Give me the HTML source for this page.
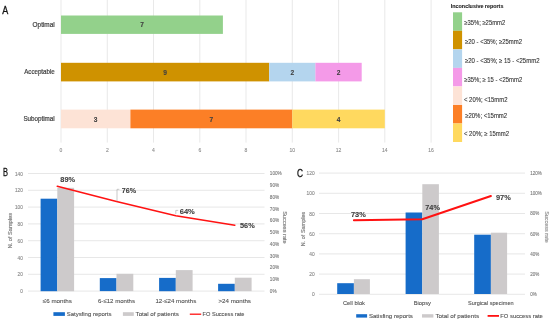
<!DOCTYPE html>
<html lang="en"><head><meta charset="utf-8"><title>Figure</title>
<style>
html,body{margin:0;padding:0;background:#fff;}
body{width:550px;height:321px;overflow:hidden;}
svg{display:block;font-family:'Liberation Sans', sans-serif;}
</style></head><body>
<svg width="550" height="321" viewBox="0 0 550 321">
<rect x="0" y="0" width="550" height="321" fill="#ffffff"/>
<line x1="61.0" y1="0.0" x2="61.0" y2="142.6" stroke="#e0e0e0" stroke-width="0.7"/>
<text x="61.0" y="151.7" font-size="5.0" fill="#8c8c8c" stroke="#8c8c8c" stroke-width="0.1" font-weight="normal" text-anchor="middle">0</text>
<line x1="107.3" y1="0.0" x2="107.3" y2="142.6" stroke="#e0e0e0" stroke-width="0.7"/>
<text x="107.3" y="151.7" font-size="5.0" fill="#8c8c8c" stroke="#8c8c8c" stroke-width="0.1" font-weight="normal" text-anchor="middle">2</text>
<line x1="153.5" y1="0.0" x2="153.5" y2="142.6" stroke="#e0e0e0" stroke-width="0.7"/>
<text x="153.5" y="151.7" font-size="5.0" fill="#8c8c8c" stroke="#8c8c8c" stroke-width="0.1" font-weight="normal" text-anchor="middle">4</text>
<line x1="199.8" y1="0.0" x2="199.8" y2="142.6" stroke="#e0e0e0" stroke-width="0.7"/>
<text x="199.8" y="151.7" font-size="5.0" fill="#8c8c8c" stroke="#8c8c8c" stroke-width="0.1" font-weight="normal" text-anchor="middle">6</text>
<line x1="246.0" y1="0.0" x2="246.0" y2="142.6" stroke="#e0e0e0" stroke-width="0.7"/>
<text x="246.0" y="151.7" font-size="5.0" fill="#8c8c8c" stroke="#8c8c8c" stroke-width="0.1" font-weight="normal" text-anchor="middle">8</text>
<line x1="292.3" y1="0.0" x2="292.3" y2="142.6" stroke="#e0e0e0" stroke-width="0.7"/>
<text x="292.3" y="151.7" font-size="5.0" fill="#8c8c8c" stroke="#8c8c8c" stroke-width="0.1" font-weight="normal" text-anchor="middle">10</text>
<line x1="338.6" y1="0.0" x2="338.6" y2="142.6" stroke="#e0e0e0" stroke-width="0.7"/>
<text x="338.6" y="151.7" font-size="5.0" fill="#8c8c8c" stroke="#8c8c8c" stroke-width="0.1" font-weight="normal" text-anchor="middle">12</text>
<line x1="384.8" y1="0.0" x2="384.8" y2="142.6" stroke="#e0e0e0" stroke-width="0.7"/>
<text x="384.8" y="151.7" font-size="5.0" fill="#8c8c8c" stroke="#8c8c8c" stroke-width="0.1" font-weight="normal" text-anchor="middle">14</text>
<line x1="431.1" y1="0.0" x2="431.1" y2="142.6" stroke="#e0e0e0" stroke-width="0.7"/>
<text x="431.1" y="151.7" font-size="5.0" fill="#8c8c8c" stroke="#8c8c8c" stroke-width="0.1" font-weight="normal" text-anchor="middle">16</text>
<rect x="61.0" y="15.5" width="161.9" height="18.4" fill="#93d18b"/>
<text x="142.0" y="27.3" font-size="6.6" fill="#404040" stroke="#404040" stroke-width="0.1" font-weight="bold" text-anchor="middle">7</text>
<rect x="61.0" y="62.8" width="208.2" height="18.6" fill="#cf9200"/>
<text x="165.1" y="74.7" font-size="6.6" fill="#404040" stroke="#404040" stroke-width="0.1" font-weight="bold" text-anchor="middle">9</text>
<rect x="269.2" y="62.8" width="46.3" height="18.6" fill="#b4d5ee"/>
<text x="292.3" y="74.7" font-size="6.6" fill="#404040" stroke="#404040" stroke-width="0.1" font-weight="bold" text-anchor="middle">2</text>
<rect x="315.4" y="62.8" width="46.3" height="18.6" fill="#f49ae8"/>
<text x="338.6" y="74.7" font-size="6.6" fill="#404040" stroke="#404040" stroke-width="0.1" font-weight="bold" text-anchor="middle">2</text>
<rect x="61.0" y="109.6" width="69.4" height="18.7" fill="#fde3d6"/>
<text x="95.7" y="121.5" font-size="6.6" fill="#404040" stroke="#404040" stroke-width="0.1" font-weight="bold" text-anchor="middle">3</text>
<rect x="130.4" y="109.6" width="161.9" height="18.7" fill="#fc7f26"/>
<text x="211.3" y="121.5" font-size="6.6" fill="#404040" stroke="#404040" stroke-width="0.1" font-weight="bold" text-anchor="middle">7</text>
<rect x="292.3" y="109.6" width="92.5" height="18.7" fill="#ffd95f"/>
<text x="338.6" y="121.5" font-size="6.6" fill="#404040" stroke="#404040" stroke-width="0.1" font-weight="bold" text-anchor="middle">4</text>
<text x="32.6" y="26.9" font-size="6.4" fill="#404040" stroke="#404040" stroke-width="0.2" font-weight="normal" text-anchor="start" textLength="22.1" lengthAdjust="spacingAndGlyphs">Optimal</text>
<text x="24.2" y="73.7" font-size="6.4" fill="#404040" stroke="#404040" stroke-width="0.2" font-weight="normal" text-anchor="start" textLength="30.5" lengthAdjust="spacingAndGlyphs">Acceptable</text>
<text x="23.4" y="121.1" font-size="6.4" fill="#404040" stroke="#404040" stroke-width="0.2" font-weight="normal" text-anchor="start" textLength="31.3" lengthAdjust="spacingAndGlyphs">Suboptimal</text>
<text x="2.3" y="13.9" font-size="11.0" fill="#111" stroke="#111" stroke-width="0.3" font-weight="normal" text-anchor="start" textLength="6.0" lengthAdjust="spacingAndGlyphs">A</text>
<text x="450.8" y="8.2" font-size="5.8" fill="#222" stroke="#222" stroke-width="0.1" font-weight="bold" text-anchor="start" textLength="52.6" lengthAdjust="spacingAndGlyphs">Inconclusive reports</text>
<rect x="453.0" y="12.3" width="9.1" height="18.5" fill="#93d18b"/>
<text x="464.2" y="25.2" font-size="6.5" fill="#333" stroke="#333" stroke-width="0.1" font-weight="normal" text-anchor="start" textLength="41.0" lengthAdjust="spacingAndGlyphs">≥35%; ≥25mm2</text>
<rect x="453.0" y="30.8" width="9.1" height="18.5" fill="#cf9200"/>
<text x="465.0" y="43.9" font-size="6.5" fill="#333" stroke="#333" stroke-width="0.1" font-weight="normal" text-anchor="start" textLength="57.0" lengthAdjust="spacingAndGlyphs">≥20 - &lt;35%; ≥25mm2</text>
<rect x="453.0" y="49.4" width="9.1" height="18.5" fill="#b4d5ee"/>
<text x="465.0" y="62.8" font-size="6.5" fill="#333" stroke="#333" stroke-width="0.1" font-weight="normal" text-anchor="start" textLength="74.5" lengthAdjust="spacingAndGlyphs">≥20 - &lt;35%; ≥ 15 - &lt;25mm2</text>
<rect x="453.0" y="67.9" width="9.1" height="18.5" fill="#f49ae8"/>
<text x="464.2" y="82.0" font-size="6.5" fill="#333" stroke="#333" stroke-width="0.1" font-weight="normal" text-anchor="start" textLength="58.0" lengthAdjust="spacingAndGlyphs">≥35%; ≥ 15 - &lt;25mm2</text>
<rect x="453.0" y="86.5" width="9.1" height="18.5" fill="#fde3d6"/>
<text x="464.0" y="102.0" font-size="6.5" fill="#333" stroke="#333" stroke-width="0.1" font-weight="normal" text-anchor="start" textLength="43.5" lengthAdjust="spacingAndGlyphs">&lt; 20%; &lt;15mm2</text>
<rect x="453.0" y="105.0" width="9.1" height="18.5" fill="#fc7f26"/>
<text x="465.2" y="117.9" font-size="6.5" fill="#333" stroke="#333" stroke-width="0.1" font-weight="normal" text-anchor="start" textLength="42.0" lengthAdjust="spacingAndGlyphs">≥20%; &lt;15mm2</text>
<rect x="453.0" y="123.5" width="9.1" height="18.5" fill="#ffd95f"/>
<text x="464.0" y="136.3" font-size="6.5" fill="#333" stroke="#333" stroke-width="0.1" font-weight="normal" text-anchor="start" textLength="45.0" lengthAdjust="spacingAndGlyphs">&lt; 20%; ≥ 15mm2</text>
<line x1="28.0" y1="291.1" x2="264.5" y2="291.1" stroke="#dcdcdc" stroke-width="0.7"/>
<text x="22.8" y="293.2" font-size="4.7" fill="#868686" stroke="#868686" stroke-width="0.1" font-weight="normal" text-anchor="end">0</text>
<line x1="28.0" y1="274.3" x2="264.5" y2="274.3" stroke="#dcdcdc" stroke-width="0.7"/>
<text x="22.8" y="276.4" font-size="4.7" fill="#868686" stroke="#868686" stroke-width="0.1" font-weight="normal" text-anchor="end">20</text>
<line x1="28.0" y1="257.5" x2="264.5" y2="257.5" stroke="#dcdcdc" stroke-width="0.7"/>
<text x="22.8" y="259.6" font-size="4.7" fill="#868686" stroke="#868686" stroke-width="0.1" font-weight="normal" text-anchor="end">40</text>
<line x1="28.0" y1="240.7" x2="264.5" y2="240.7" stroke="#dcdcdc" stroke-width="0.7"/>
<text x="22.8" y="242.8" font-size="4.7" fill="#868686" stroke="#868686" stroke-width="0.1" font-weight="normal" text-anchor="end">60</text>
<line x1="28.0" y1="223.9" x2="264.5" y2="223.9" stroke="#dcdcdc" stroke-width="0.7"/>
<text x="22.8" y="226.0" font-size="4.7" fill="#868686" stroke="#868686" stroke-width="0.1" font-weight="normal" text-anchor="end">80</text>
<line x1="28.0" y1="207.1" x2="264.5" y2="207.1" stroke="#dcdcdc" stroke-width="0.7"/>
<text x="22.8" y="209.2" font-size="4.7" fill="#868686" stroke="#868686" stroke-width="0.1" font-weight="normal" text-anchor="end">100</text>
<line x1="28.0" y1="190.3" x2="264.5" y2="190.3" stroke="#dcdcdc" stroke-width="0.7"/>
<text x="22.8" y="192.4" font-size="4.7" fill="#868686" stroke="#868686" stroke-width="0.1" font-weight="normal" text-anchor="end">120</text>
<line x1="28.0" y1="173.5" x2="264.5" y2="173.5" stroke="#dcdcdc" stroke-width="0.7"/>
<text x="22.8" y="175.6" font-size="4.7" fill="#868686" stroke="#868686" stroke-width="0.1" font-weight="normal" text-anchor="end">140</text>
<text x="269.8" y="292.8" font-size="4.7" fill="#7a7a7a" stroke="#7a7a7a" stroke-width="0.1" font-weight="normal" text-anchor="start">0%</text>
<text x="269.8" y="281.1" font-size="4.7" fill="#7a7a7a" stroke="#7a7a7a" stroke-width="0.1" font-weight="normal" text-anchor="start">10%</text>
<text x="269.8" y="269.3" font-size="4.7" fill="#7a7a7a" stroke="#7a7a7a" stroke-width="0.1" font-weight="normal" text-anchor="start">20%</text>
<text x="269.8" y="257.5" font-size="4.7" fill="#7a7a7a" stroke="#7a7a7a" stroke-width="0.1" font-weight="normal" text-anchor="start">30%</text>
<text x="269.8" y="245.8" font-size="4.7" fill="#7a7a7a" stroke="#7a7a7a" stroke-width="0.1" font-weight="normal" text-anchor="start">40%</text>
<text x="269.8" y="234.0" font-size="4.7" fill="#7a7a7a" stroke="#7a7a7a" stroke-width="0.1" font-weight="normal" text-anchor="start">50%</text>
<text x="269.8" y="222.3" font-size="4.7" fill="#7a7a7a" stroke="#7a7a7a" stroke-width="0.1" font-weight="normal" text-anchor="start">60%</text>
<text x="269.8" y="210.5" font-size="4.7" fill="#7a7a7a" stroke="#7a7a7a" stroke-width="0.1" font-weight="normal" text-anchor="start">70%</text>
<text x="269.8" y="198.7" font-size="4.7" fill="#7a7a7a" stroke="#7a7a7a" stroke-width="0.1" font-weight="normal" text-anchor="start">80%</text>
<text x="269.8" y="187.0" font-size="4.7" fill="#7a7a7a" stroke="#7a7a7a" stroke-width="0.1" font-weight="normal" text-anchor="start">90%</text>
<text x="269.8" y="175.2" font-size="4.7" fill="#7a7a7a" stroke="#7a7a7a" stroke-width="0.1" font-weight="normal" text-anchor="start">100%</text>
<rect x="40.6" y="198.7" width="16.7" height="92.5" fill="#166cc9"/>
<rect x="57.3" y="187.8" width="16.8" height="103.4" fill="#cdcacb"/>
<rect x="99.8" y="278.1" width="16.7" height="13.0" fill="#166cc9"/>
<rect x="116.5" y="273.8" width="16.8" height="17.3" fill="#cdcacb"/>
<rect x="159.1" y="277.9" width="16.7" height="13.3" fill="#166cc9"/>
<rect x="175.8" y="270.1" width="16.8" height="21.0" fill="#cdcacb"/>
<rect x="218.1" y="283.8" width="16.7" height="7.4" fill="#166cc9"/>
<rect x="234.8" y="277.7" width="16.8" height="13.4" fill="#cdcacb"/>
<polyline points="57.3,186.3 116.5,201.6 175.8,215.8 234.8,225.2" fill="none" stroke="#ff1212" stroke-width="1.6" stroke-linejoin="round" stroke-linecap="round"/>
<polyline points="117,201.3 117,189.3 119.3,189.3" fill="none" stroke="#a6a6a6" stroke-width="0.6"/>
<polyline points="175.8,214 175.8,210.4 178.2,210.4" fill="none" stroke="#a6a6a6" stroke-width="0.6"/>
<text x="60.3" y="181.8" font-size="7.8" fill="#404040" stroke="#404040" stroke-width="0.1" font-weight="bold" text-anchor="start" textLength="14.7" lengthAdjust="spacingAndGlyphs">89%</text>
<text x="121.8" y="192.6" font-size="7.8" fill="#404040" stroke="#404040" stroke-width="0.1" font-weight="bold" text-anchor="start" textLength="14.3" lengthAdjust="spacingAndGlyphs">76%</text>
<text x="179.7" y="213.7" font-size="7.8" fill="#404040" stroke="#404040" stroke-width="0.1" font-weight="bold" text-anchor="start" textLength="15.1" lengthAdjust="spacingAndGlyphs">64%</text>
<text x="240.0" y="228.2" font-size="7.8" fill="#404040" stroke="#404040" stroke-width="0.1" font-weight="bold" text-anchor="start" textLength="14.7" lengthAdjust="spacingAndGlyphs">56%</text>
<text x="42.8" y="302.5" font-size="6.2" fill="#505050" stroke="#505050" stroke-width="0.1" font-weight="normal" text-anchor="start" textLength="29.0" lengthAdjust="spacingAndGlyphs">≤6 months</text>
<text x="98.0" y="302.5" font-size="6.2" fill="#505050" stroke="#505050" stroke-width="0.1" font-weight="normal" text-anchor="start" textLength="37.0" lengthAdjust="spacingAndGlyphs">6-≤12 months</text>
<text x="155.4" y="302.5" font-size="6.2" fill="#505050" stroke="#505050" stroke-width="0.1" font-weight="normal" text-anchor="start" textLength="40.8" lengthAdjust="spacingAndGlyphs">12-≤24 months</text>
<text x="218.5" y="302.5" font-size="6.2" fill="#505050" stroke="#505050" stroke-width="0.1" font-weight="normal" text-anchor="start" textLength="32.4" lengthAdjust="spacingAndGlyphs">&gt;24 months</text>
<text x="3.0" y="176.2" font-size="10.4" fill="#111" stroke="#111" stroke-width="0.3" font-weight="normal" text-anchor="start" textLength="5.0" lengthAdjust="spacingAndGlyphs">B</text>
<text transform="translate(11.8,248.6) rotate(-90)" font-size="5.0" fill="#7a7a7a" stroke="#7a7a7a" stroke-width="0.15" textLength="35.6" lengthAdjust="spacingAndGlyphs">N. of Samples</text>
<text transform="translate(283.3,211.2) rotate(90)" font-size="5.0" fill="#7a7a7a" stroke="#7a7a7a" stroke-width="0.15" textLength="32.5" lengthAdjust="spacingAndGlyphs">Success rate</text>
<rect x="53.4" y="312.2" width="11.5" height="3.7" fill="#166cc9"/>
<text x="66.7" y="316.2" font-size="6.2" fill="#505050" stroke="#505050" stroke-width="0.1" font-weight="normal" text-anchor="start" textLength="44.8" lengthAdjust="spacingAndGlyphs">Satysfing reports</text>
<rect x="122.9" y="312.2" width="10.9" height="3.7" fill="#cdcacb"/>
<text x="135.6" y="316.2" font-size="6.2" fill="#505050" stroke="#505050" stroke-width="0.1" font-weight="normal" text-anchor="start" textLength="43.3" lengthAdjust="spacingAndGlyphs">Total of patients</text>
<line x1="189.8" y1="314.2" x2="201.2" y2="314.2" stroke="#ff1212" stroke-width="1.3"/>
<text x="202.5" y="316.2" font-size="6.2" fill="#505050" stroke="#505050" stroke-width="0.1" font-weight="normal" text-anchor="start" textLength="42.0" lengthAdjust="spacingAndGlyphs">FO Success rate</text>
<line x1="319.0" y1="294.3" x2="525.0" y2="294.3" stroke="#dcdcdc" stroke-width="0.7"/>
<text x="314.6" y="296.3" font-size="4.8" fill="#868686" stroke="#868686" stroke-width="0.1" font-weight="normal" text-anchor="end">0</text>
<text x="530.2" y="296.2" font-size="4.5" fill="#7a7a7a" stroke="#7a7a7a" stroke-width="0.1" font-weight="normal" text-anchor="start">0%</text>
<line x1="319.0" y1="274.1" x2="525.0" y2="274.1" stroke="#dcdcdc" stroke-width="0.7"/>
<text x="314.6" y="276.1" font-size="4.8" fill="#868686" stroke="#868686" stroke-width="0.1" font-weight="normal" text-anchor="end">20</text>
<text x="530.2" y="276.0" font-size="4.5" fill="#7a7a7a" stroke="#7a7a7a" stroke-width="0.1" font-weight="normal" text-anchor="start">20%</text>
<line x1="319.0" y1="253.9" x2="525.0" y2="253.9" stroke="#dcdcdc" stroke-width="0.7"/>
<text x="314.6" y="255.9" font-size="4.8" fill="#868686" stroke="#868686" stroke-width="0.1" font-weight="normal" text-anchor="end">40</text>
<text x="530.2" y="255.8" font-size="4.5" fill="#7a7a7a" stroke="#7a7a7a" stroke-width="0.1" font-weight="normal" text-anchor="start">40%</text>
<line x1="319.0" y1="233.7" x2="525.0" y2="233.7" stroke="#dcdcdc" stroke-width="0.7"/>
<text x="314.6" y="235.7" font-size="4.8" fill="#868686" stroke="#868686" stroke-width="0.1" font-weight="normal" text-anchor="end">60</text>
<text x="530.2" y="235.6" font-size="4.5" fill="#7a7a7a" stroke="#7a7a7a" stroke-width="0.1" font-weight="normal" text-anchor="start">60%</text>
<line x1="319.0" y1="213.5" x2="525.0" y2="213.5" stroke="#dcdcdc" stroke-width="0.7"/>
<text x="314.6" y="215.5" font-size="4.8" fill="#868686" stroke="#868686" stroke-width="0.1" font-weight="normal" text-anchor="end">80</text>
<text x="530.2" y="215.4" font-size="4.5" fill="#7a7a7a" stroke="#7a7a7a" stroke-width="0.1" font-weight="normal" text-anchor="start">80%</text>
<line x1="319.0" y1="193.3" x2="525.0" y2="193.3" stroke="#dcdcdc" stroke-width="0.7"/>
<text x="314.6" y="195.3" font-size="4.8" fill="#868686" stroke="#868686" stroke-width="0.1" font-weight="normal" text-anchor="end">100</text>
<text x="530.2" y="195.2" font-size="4.5" fill="#7a7a7a" stroke="#7a7a7a" stroke-width="0.1" font-weight="normal" text-anchor="start">100%</text>
<line x1="319.0" y1="173.1" x2="525.0" y2="173.1" stroke="#dcdcdc" stroke-width="0.7"/>
<text x="314.6" y="175.1" font-size="4.8" fill="#868686" stroke="#868686" stroke-width="0.1" font-weight="normal" text-anchor="end">120</text>
<text x="530.2" y="175.0" font-size="4.5" fill="#7a7a7a" stroke="#7a7a7a" stroke-width="0.1" font-weight="normal" text-anchor="start">120%</text>
<rect x="337.2" y="283.2" width="16.7" height="10.8" fill="#166cc9"/>
<rect x="353.9" y="279.2" width="16.0" height="14.8" fill="#cdcacb"/>
<rect x="405.6" y="212.5" width="16.7" height="81.5" fill="#166cc9"/>
<rect x="422.3" y="184.2" width="16.6" height="109.8" fill="#cdcacb"/>
<rect x="474.2" y="234.7" width="16.7" height="59.3" fill="#166cc9"/>
<rect x="490.9" y="232.7" width="16.2" height="61.3" fill="#cdcacb"/>
<polyline points="353.9,220.3 422.3,219.3 490.9,196.0" fill="none" stroke="#ff1212" stroke-width="2.0" stroke-linejoin="round" stroke-linecap="round"/>
<text x="351.0" y="216.8" font-size="7.8" fill="#404040" stroke="#404040" stroke-width="0.1" font-weight="bold" text-anchor="start" textLength="14.8" lengthAdjust="spacingAndGlyphs">73%</text>
<text x="425.3" y="209.8" font-size="7.8" fill="#404040" stroke="#404040" stroke-width="0.1" font-weight="bold" text-anchor="start" textLength="14.6" lengthAdjust="spacingAndGlyphs">74%</text>
<text x="496.0" y="200.2" font-size="7.8" fill="#404040" stroke="#404040" stroke-width="0.1" font-weight="bold" text-anchor="start" textLength="14.8" lengthAdjust="spacingAndGlyphs">97%</text>
<text x="342.9" y="304.6" font-size="6.2" fill="#505050" stroke="#505050" stroke-width="0.1" font-weight="normal" text-anchor="start" textLength="22.1" lengthAdjust="spacingAndGlyphs">Cell blok</text>
<text x="413.8" y="304.6" font-size="6.2" fill="#505050" stroke="#505050" stroke-width="0.1" font-weight="normal" text-anchor="start" textLength="17.1" lengthAdjust="spacingAndGlyphs">Biopsy</text>
<text x="468.0" y="304.6" font-size="6.2" fill="#505050" stroke="#505050" stroke-width="0.1" font-weight="normal" text-anchor="start" textLength="45.6" lengthAdjust="spacingAndGlyphs">Surgical specimen</text>
<text x="297.0" y="177.0" font-size="11.2" fill="#111" stroke="#111" stroke-width="0.3" font-weight="normal" text-anchor="start" textLength="6.0" lengthAdjust="spacingAndGlyphs">C</text>
<text transform="translate(305.0,246.2) rotate(-90)" font-size="5.0" fill="#7a7a7a" stroke="#7a7a7a" stroke-width="0.15" textLength="34.4" lengthAdjust="spacingAndGlyphs">N. of Samples</text>
<text transform="translate(545.0,211.2) rotate(90)" font-size="5.0" fill="#909090" stroke="#909090" stroke-width="0.15" textLength="31.5" lengthAdjust="spacingAndGlyphs">Success rate</text>
<rect x="356.2" y="314.2" width="10.9" height="3.4" fill="#166cc9"/>
<text x="368.9" y="318.0" font-size="6.2" fill="#505050" stroke="#505050" stroke-width="0.1" font-weight="normal" text-anchor="start" textLength="44.0" lengthAdjust="spacingAndGlyphs">Satisfing reports</text>
<rect x="422.0" y="314.2" width="11.4" height="3.4" fill="#cdcacb"/>
<text x="435.4" y="318.0" font-size="6.2" fill="#505050" stroke="#505050" stroke-width="0.1" font-weight="normal" text-anchor="start" textLength="43.8" lengthAdjust="spacingAndGlyphs">Total of patients</text>
<line x1="487.6" y1="315.9" x2="499.0" y2="315.9" stroke="#ff1212" stroke-width="1.8"/>
<text x="500.3" y="318.0" font-size="6.2" fill="#505050" stroke="#505050" stroke-width="0.1" font-weight="normal" text-anchor="start" textLength="42.5" lengthAdjust="spacingAndGlyphs">FO success rate</text>
</svg>
</body></html>
